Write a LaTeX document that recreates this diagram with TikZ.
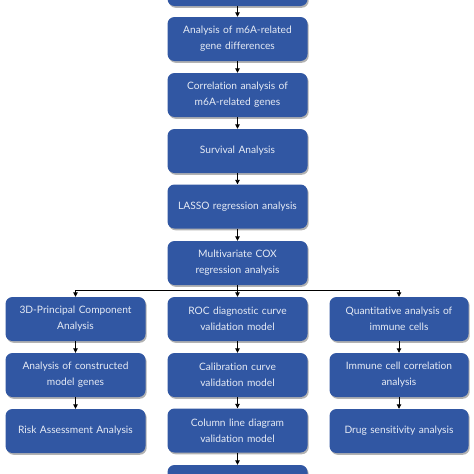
\documentclass[tikz,border=0pt]{standalone}
\usepackage{fontspec}
\setmainfont[Ligatures={NoCommon,NoDiscretionary,NoContextual}]{Lato}
\usetikzlibrary{shadows,arrows.meta}
\definecolor{boxblue}{HTML}{3157A3}
\definecolor{boxtext}{HTML}{E6EBF5}
\tikzset{
  flowbox/.style={draw=none, fill=boxblue, rounded corners=7pt,
    minimum width=140pt, minimum height=44pt, text width=130pt, align=center,
    text=boxtext, font=\fontsize{10.2}{16}\selectfont, inner sep=0pt,
    drop shadow={shadow xshift=1.2pt, shadow yshift=-1.8pt, fill=black, opacity=0.3}},
  flowarrow/.style={draw=black, line width=0.9pt, -{Triangle[length=4.5pt,width=4.5pt]}},
  flowline/.style={draw=black, line width=0.9pt}
}
\begin{document}
\begin{tikzpicture}[x=1pt,y=-1pt]
\useasboundingbox[fill=white] (0,0) rectangle (474,474);
\node[flowbox] (b0) at (237.5,-16) {};
\node[flowbox] (b1) at (237.5,39) {Analysis of m6A-related\\gene differences};
\node[flowbox] (b2) at (237.5,95) {Correlation analysis of\\m6A-related genes};
\node[flowbox] (b3) at (237.5,151) {Survival Analysis};
\node[flowbox] (b4) at (237.5,206.5) {LASSO regression analysis};
\node[flowbox] (b5) at (237.5,263) {Multivariate COX\\regression analysis};
\node[flowbox] (l1) at (75.5,319) {3D-Principal Component\\Analysis};
\node[flowbox] (l2) at (75.5,375) {Analysis of constructed\\model genes};
\node[flowbox] (l3) at (75.5,431) {Risk Assessment Analysis};
\node[flowbox] (m1) at (237.5,319) {ROC diagnostic curve\\validation model};
\node[flowbox] (m2) at (237.5,375) {Calibration curve\\validation model};
\node[flowbox] (m3) at (237.5,430.5) {Column line diagram\\validation model};
\node[flowbox] (m4) at (237.5,487) {};
\node[flowbox, minimum width=139pt] (r1) at (399,319) {Quantitative analysis of\\immune cells};
\node[flowbox, minimum width=139pt] (r2) at (399,375) {Immune cell correlation\\analysis};
\node[flowbox, minimum width=139pt] (r3) at (399,431) {Drug sensitivity analysis};
\coordinate (splitl) at (75.5,290);
\coordinate (splitr) at (399,290);
\draw[flowarrow] (b0) -- (b1);
\draw[flowarrow] (b1) -- (b2);
\draw[flowarrow] (b2) -- (b3);
\draw[flowarrow] (b3) -- (b4);
\draw[flowarrow] (b4) -- (b5);
\draw[flowarrow] (b5) -- (m1);
\draw[flowline] (splitl) -- (splitr);
\draw[flowarrow] (splitl) -- (l1);
\draw[flowarrow] (splitr) -- (r1);
\draw[flowarrow] (l1) -- (l2);
\draw[flowarrow] (l2) -- (l3);
\draw[flowarrow] (m1) -- (m2);
\draw[flowarrow] (m2) -- (m3);
\draw[flowarrow] (m3) -- (m4);
\draw[flowarrow] (r1) -- (r2);
\draw[flowarrow] (r2) -- (r3);
\end{tikzpicture}
\end{document}
